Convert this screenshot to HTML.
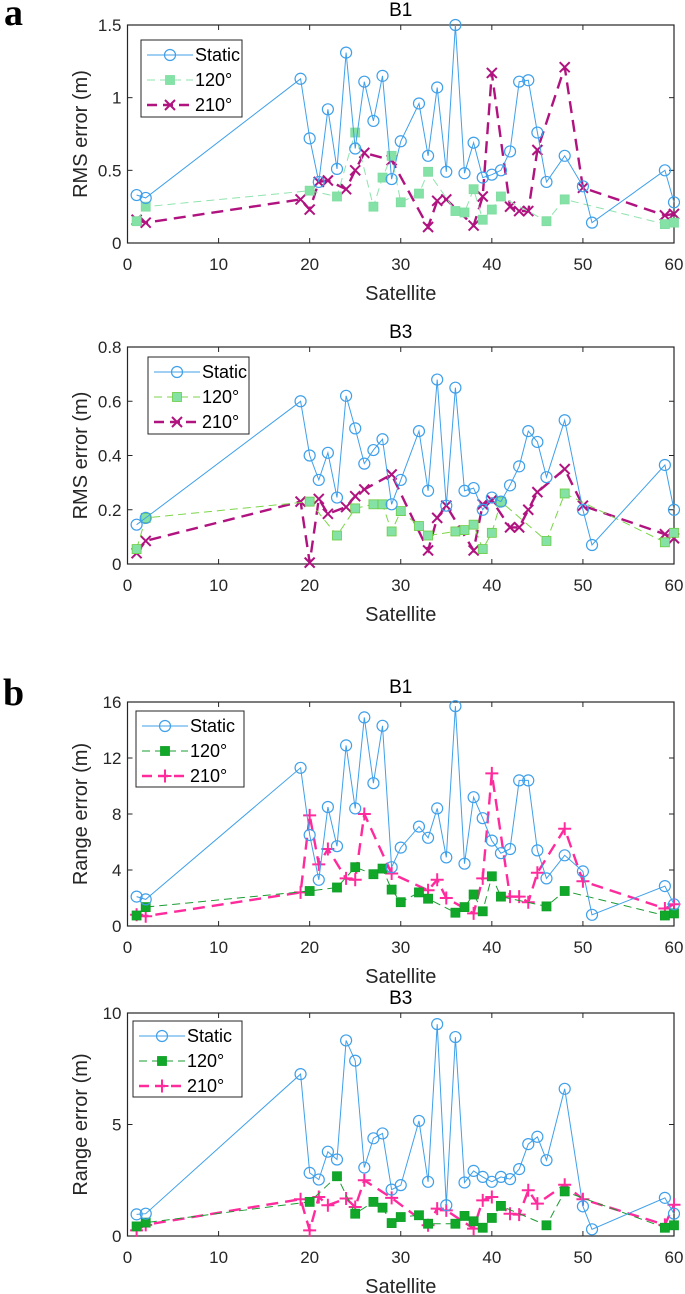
<!DOCTYPE html>
<html><head><meta charset="utf-8"><style>
body{margin:0;background:#fff;}
svg{display:block;font-family:"Liberation Sans",Arial,sans-serif;}
</style></head><body>
<svg id="fig" width="685" height="1294" viewBox="0 0 685 1294" xmlns="http://www.w3.org/2000/svg">
<text x="4" y="25" font-family="Liberation Serif" font-weight="bold" font-size="38">a</text>
<text x="3" y="705" font-family="Liberation Serif" font-weight="bold" font-size="38">b</text>
</svg>
<script>
const satStatic=[1,2,19,20,21,22,23,24,25,26,27,28,29,30,32,33,34,35,36,37,38,39,40,41,42,43,44,45,46,48,50,51,59,60];
const sat120=[1,2,20,23,25,27,28,29,30,32,33,36,37,38,39,40,41,46,48,59,60];
const sat210=[1,2,19,20,21,22,24,25,26,29,33,34,35,38,39,40,42,43,44,45,48,50,59,60];

const aB1Static=[0.33,0.31,1.13,0.72,0.42,0.92,0.51,1.31,0.65,1.11,0.84,1.15,0.44,0.70,0.96,0.60,1.07,0.49,1.5,0.48,0.69,0.45,0.47,0.5,0.63,1.11,1.12,0.76,0.42,0.60,0.39,0.14,0.5,0.28];
const aB1s120=[0.15,0.25,0.36,0.32,0.76,0.25,0.45,0.6,0.28,0.34,0.49,0.22,0.21,0.37,0.16,0.23,0.32,0.15,0.30,0.13,0.14];
const aB1s210=[0.16,0.14,0.30,0.23,0.42,0.43,0.37,0.5,0.62,0.57,0.11,0.29,0.30,0.12,0.32,1.17,0.25,0.22,0.22,0.64,1.21,0.38,0.19,0.2];

const aB3Static=[0.145,0.17,0.60,0.40,0.31,0.41,0.245,0.62,0.50,0.37,0.42,0.46,0.22,0.31,0.49,0.27,0.68,0.215,0.65,0.27,0.28,0.20,0.245,0.23,0.29,0.36,0.49,0.45,0.32,0.53,0.20,0.07,0.365,0.20];
const aB3s120=[0.055,0.17,0.23,0.105,0.205,0.22,0.22,0.12,0.195,0.14,0.105,0.12,0.125,0.145,0.055,0.115,0.23,0.085,0.26,0.08,0.115];
const aB3s210=[0.04,0.085,0.23,0.005,0.24,0.185,0.21,0.25,0.275,0.33,0.05,0.17,0.215,0.05,0.22,0.235,0.135,0.135,0.20,0.265,0.35,0.215,0.11,0.095];

const bB1Static=[2.1,1.9,11.3,6.5,3.3,8.5,5.7,12.9,8.4,14.9,10.2,14.3,4.2,5.6,7.1,6.3,8.4,4.9,15.7,4.45,9.2,7.7,6.1,5.2,5.5,10.4,10.4,5.4,3.4,5.05,3.9,0.8,2.85,1.55];
const bB1s120=[0.75,1.35,2.5,2.75,4.2,3.7,4.1,2.6,1.7,2.4,1.95,0.95,1.35,2.25,1.05,3.55,2.1,1.4,2.5,0.75,0.9];
const bB1s210=[0.8,0.7,2.4,7.9,4.4,5.5,3.4,3.3,8.0,3.75,2.55,3.3,2.0,0.9,3.4,10.9,2.1,2.1,1.7,3.8,6.95,3.2,1.25,1.55];

const bB3Static=[0.97,1.0,7.26,2.83,2.53,3.78,3.43,8.77,7.86,3.07,4.38,4.6,2.08,2.28,5.16,2.43,9.5,1.38,8.92,2.4,2.92,2.65,2.43,2.65,2.55,3.0,4.12,4.45,3.4,6.6,1.33,0.3,1.71,1.0];
const bB3s120=[0.43,0.6,1.53,2.68,1.0,1.53,1.27,0.58,0.85,0.93,0.55,0.55,0.9,0.66,0.37,0.81,1.35,0.48,2.0,0.37,0.48];
const bB3s210=[0.25,0.5,1.65,0.25,1.75,1.38,1.68,1.3,2.5,1.71,0.48,1.23,1.15,0.33,1.6,1.75,1.0,0.96,2.05,1.45,2.3,1.65,0.5,1.4];

const xTicks=[0,10,20,30,40,50,60];
const yTicksA1=[0,0.5,1,1.5], yTicksA2=[0,0.2,0.4,0.6,0.8], yTicksB1=[0,4,8,12,16], yTicksB2=[0,5,10];

const NS="http://www.w3.org/2000/svg";
const svg=document.getElementById('fig');
function mk(tag,attrs,parent){const e=document.createElementNS(NS,tag);for(const k in attrs)e.setAttribute(k,attrs[k]);(parent||svg).appendChild(e);return e;}

const STATIC="#3fa0ea";
function marker(g,type,x,y,col,fill){
  let m;
  if(type==='o'){m=mk('circle',{cx:x,cy:y,r:5.5,fill:'none',stroke:STATIC,'stroke-width':1.2},g);}
  else if(type==='s'){m=mk('rect',{x:x-4.5,y:y-4.5,width:9,height:9,fill:fill,stroke:col,'stroke-width':0.8},g);}
  else if(type==='x'){m=mk('path',{d:`M${x-5},${y-5}L${x+5},${y+5}M${x-5},${y+5}L${x+5},${y-5}`,stroke:col,'stroke-width':2,fill:'none'},g);}
  else {m=mk('path',{d:`M${x-6.5},${y}L${x+6.5},${y}M${x},${y-6.5}L${x},${y+6.5}`,stroke:col,'stroke-width':2,fill:'none'},g);}
  
  
}

function plot(cfg){
  const L=127.5,R=674,T=cfg.top,B=cfg.bottom;
  const g=mk('g',{});
  
  
  const xs=v=>L+(v-0)/60*(R-L);
  const ys=v=>B-(v/cfg.ymax)*(B-T);
  xTicks.forEach(t=>{
    const x=xs(t);
    mk('line',{x1:x,y1:B,x2:x,y2:B-5,stroke:'#262626','stroke-width':1},g);
    mk('line',{x1:x,y1:T,x2:x,y2:T+5,stroke:'#262626','stroke-width':1},g);
    const tx=mk('text',{x:x,y:B+27,'text-anchor':'middle','font-size':17,fill:'#262626'},g);
    tx.textContent=t;
    
    
  });
  cfg.yt.forEach(t=>{
    const y=ys(t);
    mk('line',{x1:L,y1:y,x2:L+5,y2:y,stroke:'#262626','stroke-width':1},g);
    mk('line',{x1:R,y1:y,x2:R-5,y2:y,stroke:'#262626','stroke-width':1},g);
    const tx=mk('text',{x:L-6,y:y+6,'text-anchor':'end','font-size':17,fill:'#262626'},g);
    tx.textContent=t;
    
    
  });
  const fr=mk('rect',{x:L,y:T,width:R-L,height:B-T,fill:'none',stroke:'#262626','stroke-width':1.2},g);
  
  
  const ti=mk('text',{x:(L+R)/2,y:T-9,'text-anchor':'middle','font-size':19,fill:'#000'},g);
  ti.textContent=cfg.title;
  
  
  const xl=mk('text',{x:(L+R)/2,y:B+57,'text-anchor':'middle','font-size':20,fill:'#262626'},g);
  xl.textContent='Satellite';
  
  
  const cy=(T+B)/2;
  const yl=mk('text',{x:87,y:cy,'text-anchor':'middle','font-size':20,fill:'#262626',transform:`rotate(-90 87 ${cy})`},g);
  yl.textContent=cfg.ylabel;
  
  
  const series=[
    {sats:sat210,vals:cfg.s210,col:cfg.c210,dash:'12,7',w:2.4,mk:cfg.m210,name:'series-210'},
    {sats:sat120,vals:cfg.s120,col:cfg.c120line,dash:'8,5',w:1,mk:'s',name:'series-120'},
    {sats:satStatic,vals:cfg.st,col:STATIC,dash:'',w:1,mk:'o',name:'series-static'}
  ];
  series.forEach(s=>{
    const sg=mk('g',{},g);
    
    
    const pts=s.sats.map((st,i)=>xs(st).toFixed(1)+','+ys(s.vals[i]).toFixed(1)).join(' ');
    const pl=mk('polyline',{points:pts,fill:'none',stroke:s.col,'stroke-width':s.w,'stroke-dasharray':s.dash},sg);
    
    
    s.sats.forEach((st,i)=>marker(sg,s.mk,xs(st),ys(s.vals[i]),s.mk==='s'?cfg.c120edge:s.col,cfg.c120fill));
  });
  const lg=mk('g',{},g);
  
  
  const lx=cfg.leg[0],ly=cfg.leg[1];
  mk('rect',{x:lx,y:ly,width:cfg.leg[2],height:cfg.leg[3],fill:'#fff',stroke:'#262626','stroke-width':1},lg);
  const rows=[
    {lab:'Static',col:STATIC,dash:'',w:1,m:'o'},
    {lab:'120°',col:cfg.c120line,dash:'8,5',w:1,m:'s'},
    {lab:'210°',col:cfg.c210,dash:'10,6',w:2.4,m:cfg.m210}
  ];
  rows.forEach((r,i)=>{
    const yy=ly+15+i*25;
    const ent=mk('g',{},lg);
    
    
    mk('line',{x1:lx+6,y1:yy,x2:lx+52,y2:yy,stroke:r.col,'stroke-width':r.w,'stroke-dasharray':r.dash},ent);
    marker(ent,r.m,lx+29,yy,r.m==='s'?cfg.c120edge:r.col,cfg.c120fill);
    const t=mk('text',{x:lx+54,y:yy+6,'font-size':18,fill:'#000'},ent);
    t.textContent=r.lab;
  });
}

plot({name:'chart-a-b1',top:25,bottom:243,ymax:1.5,yt:yTicksA1,title:'B1',ylabel:'RMS error (m)',
  st:aB1Static,s120:aB1s120,s210:aB1s210,c210:'#b0137f',m210:'x',c120line:'#8fe3ae',c120edge:'#7fdca0',c120fill:'#85e2a6',leg:[141,40,101,77]});
plot({name:'chart-a-b3',top:347,bottom:564,ymax:0.8,yt:yTicksA2,title:'B3',ylabel:'RMS error (m)',
  st:aB3Static,s120:aB3s120,s210:aB3s210,c210:'#b0137f',m210:'x',c120line:'#7ad648',c120edge:'#6ccc40',c120fill:'#85e2a6',leg:[148,357,101,77]});
plot({name:'chart-b-b1',top:702,bottom:926,ymax:16,yt:yTicksB1,title:'B1',ylabel:'Range error (m)',
  st:bB1Static,s120:bB1s120,s210:bB1s210,c210:'#ff2b9c',m210:'+',c120line:'#1a9c30',c120edge:'#0e9e26',c120fill:'#11a82a',leg:[136,711,108,76]});
plot({name:'chart-b-b3',top:1013,bottom:1236,ymax:10,yt:yTicksB2,title:'B3',ylabel:'Range error (m)',
  st:bB3Static,s120:bB3s120,s210:bB3s210,c210:'#ff2b9c',m210:'+',c120line:'#1a9c30',c120edge:'#0e9e26',c120fill:'#11a82a',leg:[133,1021,109,76]});
</script>
</body></html>
